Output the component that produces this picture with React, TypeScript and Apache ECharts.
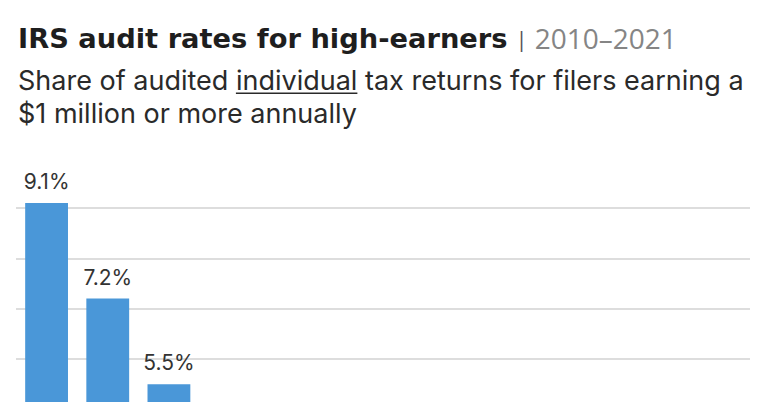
import React, { useEffect, useRef } from 'react';
import * as echarts from 'echarts';

// data
const YEARS = ['2010', '2011', '2012', '2013', '2014', '2015', '2016', '2017', '2018', '2019', '2020', '2021'];
// share of $1M+ returns audited (%); 2013 onward sits below the visible area, estimated
const AUDIT_RATE = [9.1, 7.2, 5.5, 4.3, 3.8, 3.1, 2.6, 2.0, 1.1, 0.7, 0.7, 0.2];
const Y_TICKS = [0, 9, 1]; // min, max, interval
const LABEL_MIN = 5; // value labels below this fall outside the crop

const TITLE = 'IRS audit rates for high-earners';
const TITLE_RANGE = '2010–2021';
const SUB_PRE = 'Share of audited ';
const SUB_UL = 'individual';
const SUB_LINE1_POST = ' tax returns for filers earning a';
const SUB_LINE2 = '$1 million or more annually';

const FONT = '"Open Sans", Lato, sans-serif';
const SUB_FONT = 'Inter, "Open Sans", sans-serif';
const TITLE_FONT = '"DejaVu Sans", "Open Sans", sans-serif';
const SUB_SIZE = 27;

const measure = (text: string, font: string) => {
  const ctx = document.createElement('canvas').getContext('2d');
  if (!ctx) return text.length * 12;
  ctx.font = font;
  return ctx.measureText(text).width;
};

export default function App() {
  const ref = useRef<HTMLDivElement>(null);

  useEffect(() => {
    document.body.style.margin = '0';
    if (!ref.current) return;
    const chart = echarts.init(ref.current, null, { renderer: 'svg' });

    const subFont = `${SUB_SIZE}px ${SUB_FONT}`;
    const ulX = 18 + measure(SUB_PRE, subFont);
    const ulW = measure(SUB_UL, subFont);

    const subStyle = { fontSize: SUB_SIZE, fontFamily: SUB_FONT, fill: '#2a2a2a' };

    chart.setOption({
      animation: false,
      backgroundColor: '#fff',
      textStyle: { fontFamily: FONT },
      grid: { left: 16, right: 18, top: 208, bottom: 59, containLabel: false },
      xAxis: {
        type: 'category',
        data: YEARS,
        axisLine: { show: false },
        axisTick: { show: false },
        axisLabel: { show: false },
      },
      yAxis: {
        type: 'value',
        min: Y_TICKS[0],
        max: Y_TICKS[1],
        interval: Y_TICKS[2],
        axisLabel: { show: false },
        axisLine: { show: false },
        axisTick: { show: false },
        splitLine: { lineStyle: { color: '#d2d2d2', width: 1.5 } },
      },
      series: [
        {
          type: 'bar',
          data: AUDIT_RATE.map((v) => ({ value: v, label: { show: v >= LABEL_MIN } })),
          clip: false,
          barCategoryGap: '30%',
          itemStyle: { color: '#4a97d8' },
          label: {
            position: 'top',
            distance: 11,
            fontSize: 21,
            color: '#333',
            fontFamily: SUB_FONT,
            formatter: (p: any) => `${p.value.toFixed(1)}%`,
          },
        },
      ],
      graphic: [
        {
          type: 'text',
          left: 18,
          top: 24,
          style: {
            text: `{b|${TITLE}}{s||}{y|${TITLE_RANGE}}`,
            rich: {
              b: { fontSize: 27.3, fontWeight: 'bold', fill: '#1e1e1e', fontFamily: TITLE_FONT },
              s: { fontSize: 22, fill: '#555', fontFamily: FONT, padding: [0, 7, 0, 8] },
              y: { fontSize: 28, fill: '#858585', fontFamily: FONT },
            },
          },
        },
        {
          type: 'text',
          left: 18,
          top: 67,
          style: { text: `${SUB_PRE}${SUB_UL}${SUB_LINE1_POST}`, ...subStyle },
        },
        {
          type: 'text',
          left: 18,
          top: 100,
          style: { text: SUB_LINE2, ...subStyle },
        },
        {
          type: 'rect',
          shape: { x: ulX, y: 92.5, width: ulW, height: 1.5 },
          style: { fill: '#2a2a2a' },
        },
      ],
    });

    return () => chart.dispose();
  }, []);

  return (
    <div style={{ position: 'fixed', left: 0, top: 0, width: 768, height: 402, overflow: 'hidden', background: '#fff' }}>
      <div ref={ref} style={{ width: 768, height: 720 }} />
    </div>
  );
}
